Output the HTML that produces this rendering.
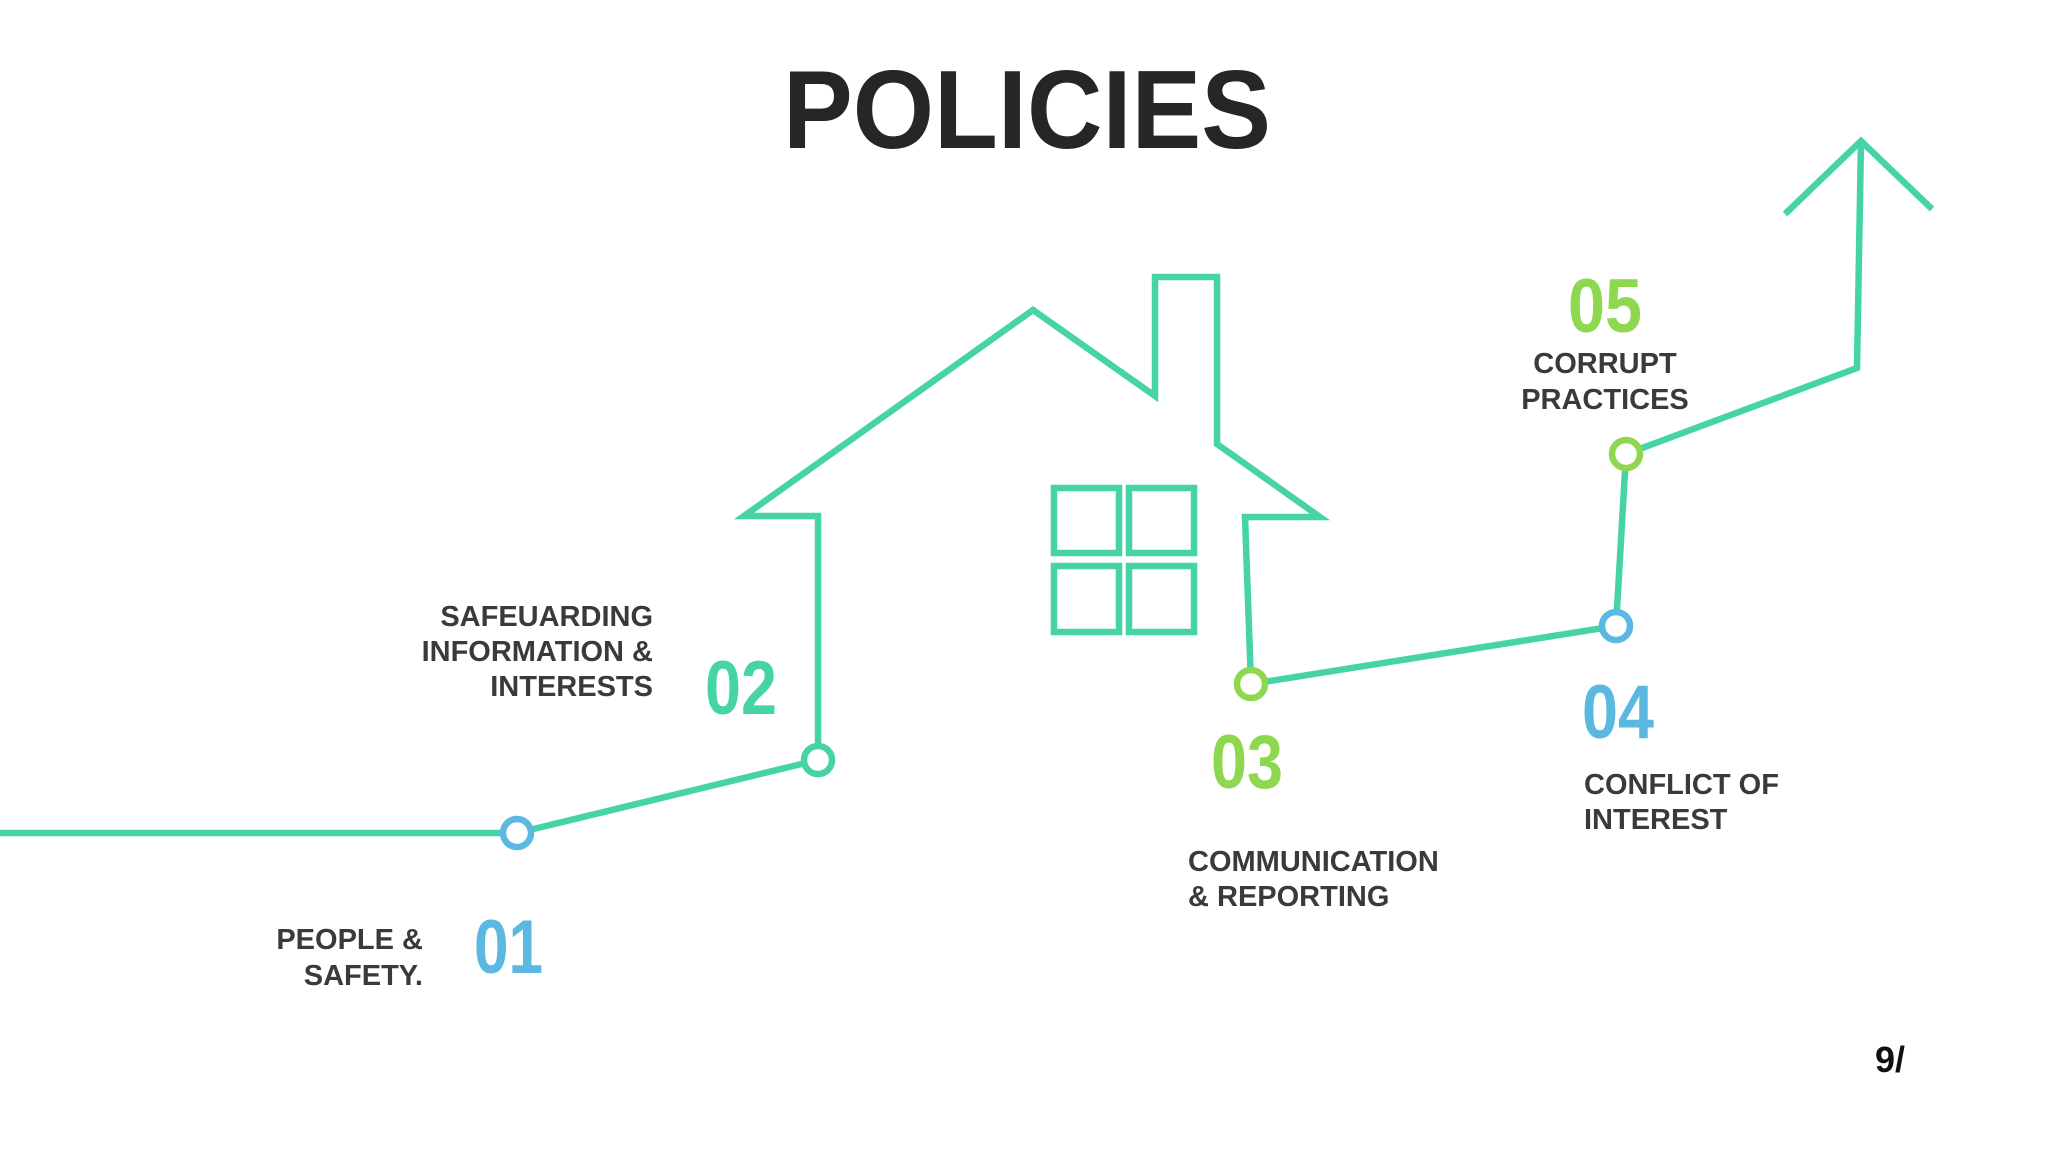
<!DOCTYPE html>
<html><head><meta charset="utf-8"><style>
html,body{margin:0;padding:0;background:#fff;}
svg{display:block;}
text{font-family:"Liberation Sans",Arial,sans-serif;font-weight:bold;}
.l{fill:#3a3a3a;font-size:29px;}
</style></head><body>
<svg width="2048" height="1152" viewBox="0 0 2048 1152" xmlns="http://www.w3.org/2000/svg">
<text x="783" y="148" font-size="111" fill="#262626" textLength="488" lengthAdjust="spacingAndGlyphs">POLICIES</text>
<g fill="none" stroke="#47d3a8" stroke-width="6.5" stroke-linejoin="miter">
<polyline points="0,833 517,833 818,760 818,516 744,516 1033,310 1155,396 1155,277 1217,277 1217,444 1320,517 1245,517 1251,684 1616,626 1626,454 1857,368 1861,141"/>
<polyline points="1785,214 1861,141 1932,209"/>
<rect x="1054" y="488" width="65" height="65"/>
<rect x="1129" y="488" width="65" height="65"/>
<rect x="1054" y="566" width="65" height="66"/>
<rect x="1129" y="566" width="65" height="66"/>
</g>
<g fill="#fff" stroke-width="6.5">
<circle cx="517" cy="833" r="14" stroke="#5bb8e0"/>
<circle cx="818" cy="760" r="14" stroke="#47d3a8"/>
<circle cx="1251" cy="684" r="14" stroke="#8ed84f"/>
<circle cx="1616" cy="626" r="14" stroke="#5bb8e0"/>
<circle cx="1626" cy="454" r="14" stroke="#8ed84f"/>
</g>
<text x="474" y="973" font-size="76" fill="#5bb8e0" textLength="69" lengthAdjust="spacingAndGlyphs">01</text>
<text x="705" y="714" font-size="76" fill="#47d3a8" textLength="72" lengthAdjust="spacingAndGlyphs">02</text>
<text x="1211" y="788" font-size="76" fill="#8ed84f" textLength="72" lengthAdjust="spacingAndGlyphs">03</text>
<text x="1582" y="738" font-size="76" fill="#5bb8e0" textLength="72" lengthAdjust="spacingAndGlyphs">04</text>
<text x="1568" y="332" font-size="76" fill="#8ed84f" textLength="74" lengthAdjust="spacingAndGlyphs">05</text>

<g class="l" text-anchor="end">
<text x="653" y="626" class="l">SAFEUARDING</text>
<text x="653" y="661" class="l">INFORMATION &amp;</text>
<text x="653" y="696" class="l">INTERESTS</text>
<text x="423" y="949" class="l">PEOPLE &amp;</text>
<text x="423" y="985" class="l">SAFETY.</text>
</g>
<text x="1188" y="871" class="l">COMMUNICATION</text>
<text x="1188" y="906" class="l">&amp; REPORTING</text>
<text x="1584" y="794" class="l">CONFLICT OF</text>
<text x="1584" y="829" class="l">INTEREST</text>
<text x="1605" y="373" class="l" text-anchor="middle">CORRUPT</text>
<text x="1605" y="409" class="l" text-anchor="middle">PRACTICES</text>
<text x="1875" y="1072" font-size="36" fill="#111">9/</text>
</svg>
</body></html>
